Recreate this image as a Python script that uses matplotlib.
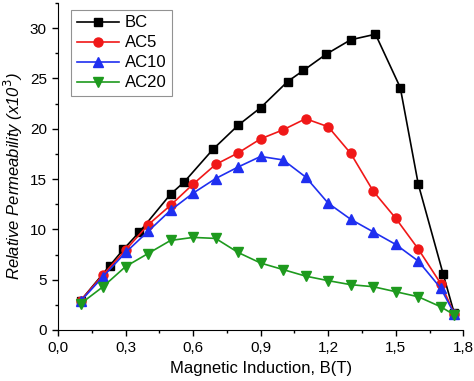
import matplotlib
matplotlib.use("Agg")
import matplotlib.pyplot as plt
from matplotlib.ticker import MultipleLocator, FuncFormatter

plt.rcParams["font.family"] = ["Liberation Sans", "DejaVu Sans"]

# Données (perméabilité relative, x10^3)
B_BC = [0.1, 0.23, 0.29, 0.36, 0.5, 0.56, 0.69, 0.8, 0.9, 1.02, 1.09,
        1.19, 1.3, 1.41, 1.52, 1.6, 1.71, 1.76]
MU_BC = [2.9, 6.4, 8.0, 9.7, 13.5, 14.7, 18.0, 20.35, 22.1, 24.7, 25.8,
         27.4, 28.85, 29.4, 24.1, 14.5, 5.6, 1.65]

B_AC = [0.1, 0.2, 0.3, 0.4, 0.5, 0.6, 0.7, 0.8, 0.9, 1.0, 1.1, 1.2,
        1.3, 1.4, 1.5, 1.6, 1.7, 1.76]
MU_AC5 = [2.9, 5.5, 7.95, 10.45, 12.4, 14.5, 16.45, 17.6, 19.0, 19.9,
          21.0, 20.2, 17.55, 13.8, 11.1, 8.05, 4.6, 1.6]
MU_AC10 = [2.85, 5.3, 7.7, 9.8, 11.9, 13.6, 15.05, 16.2, 17.25, 16.9,
           15.2, 12.6, 11.0, 9.75, 8.5, 6.85, 4.15, 1.6]
MU_AC20 = [2.6, 4.3, 6.3, 7.6, 8.9, 9.2, 9.1, 7.7, 6.65, 6.0, 5.35, 4.9,
           4.5, 4.3, 3.8, 3.3, 2.3, 1.5]

SERIES = [
    ("BC", B_BC, MU_BC, "black", "s", 5.5),
    ("AC5", B_AC, MU_AC5, "#f01818", "o", 6.5),
    ("AC10", B_AC, MU_AC10, "#1f2ff0", "^", 7),
    ("AC20", B_AC, MU_AC20, "#1e9a1e", "v", 7),
]


def main():
    fig = plt.figure(figsize=(4.74, 3.81), dpi=100)
    ax = fig.add_axes([0.1224, 0.134, 0.855, 0.858])

    for label, x, y, color, marker, ms in SERIES:
        ax.plot(x, y, color=color, marker=marker, markersize=ms,
                linewidth=1.2, label=label)

    ax.set_xlim(0, 1.8)
    ax.set_ylim(0, 32.5)
    ax.spines["top"].set_visible(False)
    ax.spines["right"].set_visible(False)
    ax.xaxis.set_major_locator(MultipleLocator(0.3))
    ax.xaxis.set_minor_locator(MultipleLocator(0.15))
    ax.yaxis.set_major_locator(MultipleLocator(5))
    ax.yaxis.set_minor_locator(MultipleLocator(2.5))
    ax.xaxis.set_major_formatter(
        FuncFormatter(lambda v, p: f"{v:.1f}".replace(".", ",")))
    ax.tick_params(which="major", direction="out", length=4.5, width=1,
                   labelsize=11)
    ax.tick_params(which="minor", direction="out", length=2.5, width=1)

    ax.set_xlabel("Magnetic Induction, B(T)", fontsize=12, labelpad=4)
    ax.set_ylabel("Relative Permeability (x10$^3$)", fontsize=12,
                  fontstyle="italic")
    ax.yaxis.set_label_coords(-0.082, 0.47)

    leg = ax.legend(loc="upper left", bbox_to_anchor=(0.025, 0.99),
                    fontsize=12, frameon=True, fancybox=False,
                    handlelength=2.5, borderpad=0.35, labelspacing=0.3,
                    handletextpad=0.35, borderaxespad=0.2)
    leg.get_frame().set_edgecolor("#777777")
    leg.get_frame().set_linewidth(0.8)

    plt.savefig("out.png", dpi=100)


if __name__ == "__main__":
    main()
